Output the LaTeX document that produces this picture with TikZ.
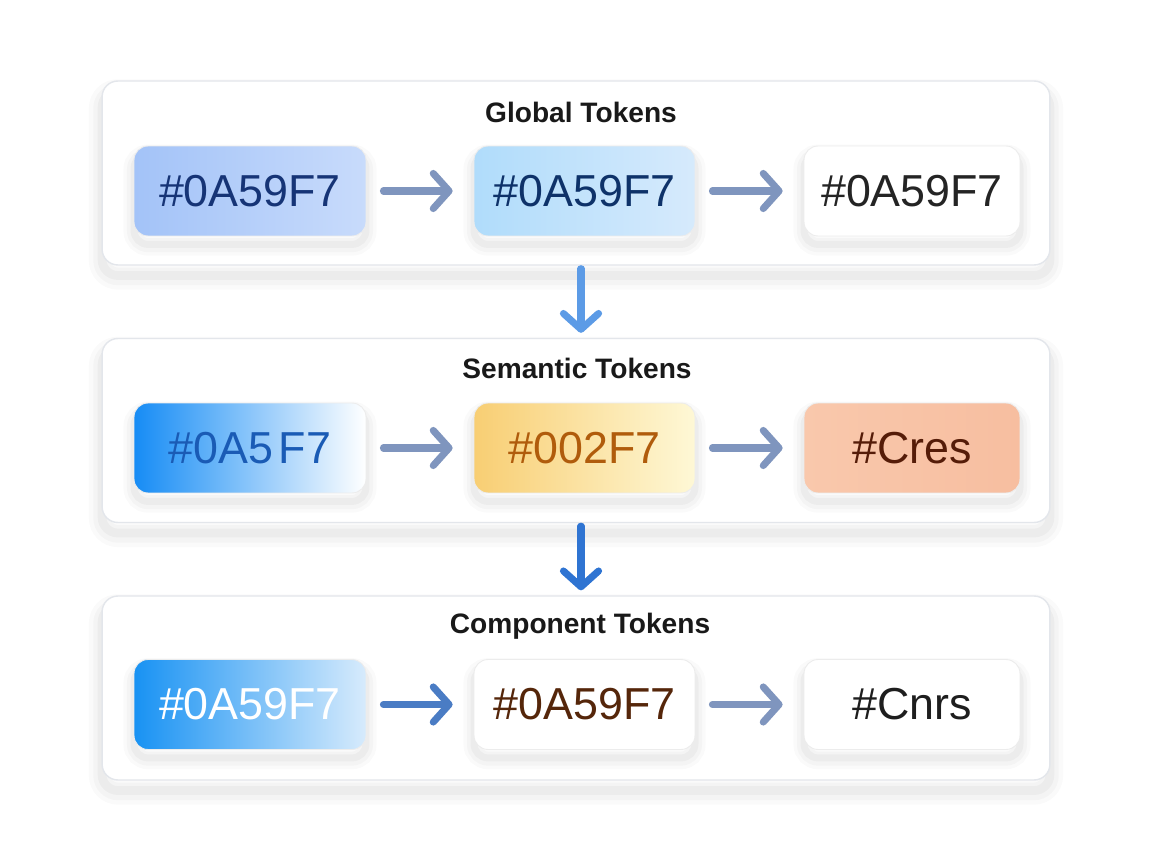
\documentclass[tikz,border=0pt]{standalone}
\usepackage{fontspec}
\setmainfont{Liberation Sans}
\usetikzlibrary{arrows.meta}
\definecolor{panelborder}{HTML}{E3E6EB}
\definecolor{arrgray}{HTML}{7F95BE}
\definecolor{arrblue}{HTML}{4A7CC4}
\definecolor{varrA}{HTML}{5C9BE6}
\definecolor{varrB}{HTML}{2F74D2}
\tikzset{
  x=0.02cm, y=-0.02cm,
  softshadow/.style={
    preaction={draw=black, draw opacity=0.02, line width=#1*3, transform canvas={yshift=-#1*1.3}},
    preaction={draw=black, draw opacity=0.025, line width=#1*2, transform canvas={yshift=-#1*1.3}},
    preaction={draw=black, draw opacity=0.03, line width=#1*1, transform canvas={yshift=-#1*1.2}}},
  panel/.style={draw=panelborder, line width=0.8pt, fill=white, rounded corners=9pt,
    minimum width=18.96cm, minimum height=3.68cm, softshadow=5pt},
  title/.style={font=\fontsize{16}{19}\selectfont\bfseries, text=black!90},
  tok/.style={rounded corners=8pt, minimum height=1.8cm, draw=white!85!gray, line width=0.5pt,
    font=\fontsize{25.5}{30}\selectfont, inner sep=0pt, softshadow=4pt},
  wA/.style={minimum width=4.64cm},
  wB/.style={minimum width=4.42cm},
  wC/.style={minimum width=4.32cm},
  harr/.style={line width=4pt, line cap=round, -{Straight Barb[length=9pt,width=20pt,round]}, shorten <=0.34cm, shorten >=0.42cm},
  varr/.style={line width=4pt, line cap=round, -{Straight Barb[length=9pt,width=20pt,round]}},
}
\begin{document}
\begin{tikzpicture}
\useasboundingbox[fill=white] (0,0) rectangle (1152,864);
% panels
\node[panel] (p1) at (576,173) {};
\node[panel] (p2) at (576,430.5) {};
\node[panel] (p3) at (576,688) {};
% titles
\node[title] (t1) at (581,112) {Global Tokens};
\node[title] (t2) at (577,368) {Semantic Tokens};
\node[title] (t3) at (580,626) {Component Tokens};
% row 1
\node[tok, wA, left color={rgb,255:red,163;green,195;blue,248}, right color={rgb,255:red,200;green,219;blue,251}, text={rgb,255:red,22;green,52;blue,118}] (a1) at (250,191) {\#0A59F7};
\node[tok, wB, left color={rgb,255:red,176;green,220;blue,251}, right color={rgb,255:red,214;green,234;blue,252}, text={rgb,255:red,14;green,50;blue,105}] (b1) at (584.5,191) {\#0A59F7};
\node[tok, wC, fill=white, text={rgb,255:red,36;green,36;blue,36}] (c1) at (912,191) {\#0A59F7};
% row 2
\node[tok, wA, left color={rgb,255:red,22;green,140;blue,245}, right color=white, text={rgb,255:red,26;green,91;blue,181}] (a2) at (250,448) {\#0A5\hspace{0.12em}F7};
\node[tok, wB, left color={rgb,255:red,248;green,206;blue,115}, right color={rgb,255:red,254;green,248;blue,214}, text={rgb,255:red,176;green,92;blue,12}] (b2) at (584.5,448) {\#002F7};
\node[tok, wC, left color={rgb,255:red,249;green,200;blue,172}, right color={rgb,255:red,247;green,190;blue,160}, text={rgb,255:red,85;green,28;blue,8}] (c2) at (912,448) {\#Cres};
% row 3
\node[tok, wA, left color={rgb,255:red,24;green,146;blue,243}, right color={rgb,255:red,215;green,235;blue,252}, text=white] (a3) at (250,704.5) {\#0A59F7};
\node[tok, wB, fill=white, text={rgb,255:red,85;green,38;blue,10}] (b3) at (584.5,704.5) {\#0A59F7};
\node[tok, wC, fill=white, text={rgb,255:red,30;green,30;blue,30}] (c3) at (912,704.5) {\#Cnrs};
% horizontal arrows
\draw[harr, arrgray] (a1) -- (b1);
\draw[harr, arrgray] (b1) -- (c1);
\draw[harr, arrgray] (a2) -- (b2);
\draw[harr, arrgray] (b2) -- (c2);
\draw[harr, arrblue] (a3) -- (b3);
\draw[harr, arrgray] (b3) -- (c3);
% vertical arrows
\draw[varr, varrA, shorten <=0.06cm, shorten >=0.1cm] ([xshift=0.1cm]p1.south) -- ([xshift=0.1cm]p2.north);
\draw[varr, varrB, shorten <=0.06cm, shorten >=0.1cm] ([xshift=0.1cm]p2.south) -- ([xshift=0.1cm]p3.north);
\end{tikzpicture}
\end{document}
